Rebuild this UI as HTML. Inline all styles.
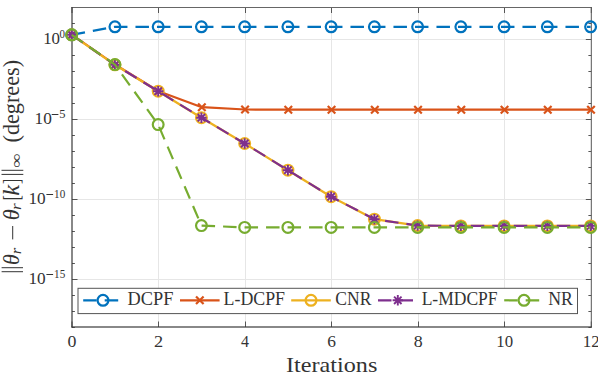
<!DOCTYPE html>
<html><head><meta charset="utf-8"><style>
html,body{margin:0;padding:0;background:#fff;overflow:hidden;}
svg{display:block;}
text{font-family:"Liberation Serif",serif;fill:#333333;}
</style></head><body>
<svg width="598" height="376" viewBox="0 0 598 376">
<line x1="158.50" y1="7.5" x2="158.50" y2="327.0" stroke="#e6e6e6" stroke-width="1"/>
<line x1="245.50" y1="7.5" x2="245.50" y2="327.0" stroke="#e6e6e6" stroke-width="1"/>
<line x1="331.50" y1="7.5" x2="331.50" y2="327.0" stroke="#e6e6e6" stroke-width="1"/>
<line x1="418.50" y1="7.5" x2="418.50" y2="327.0" stroke="#e6e6e6" stroke-width="1"/>
<line x1="504.50" y1="7.5" x2="504.50" y2="327.0" stroke="#e6e6e6" stroke-width="1"/>
<line x1="72.0" y1="39.50" x2="591.3" y2="39.50" stroke="#e6e6e6" stroke-width="1"/>
<line x1="72.0" y1="119.50" x2="591.3" y2="119.50" stroke="#e6e6e6" stroke-width="1"/>
<line x1="72.0" y1="199.50" x2="591.3" y2="199.50" stroke="#e6e6e6" stroke-width="1"/>
<line x1="72.0" y1="279.50" x2="591.3" y2="279.50" stroke="#e6e6e6" stroke-width="1"/>
<path d="M72.00,327.0V321.5M72.00,7.5V13.0M158.50,327.0V321.5M158.50,7.5V13.0M245.50,327.0V321.5M245.50,7.5V13.0M331.50,327.0V321.5M331.50,7.5V13.0M418.50,327.0V321.5M418.50,7.5V13.0M504.50,327.0V321.5M504.50,7.5V13.0M591.30,327.0V321.5M591.30,7.5V13.0M72.0,7.50H74.9M591.3,7.50H588.4M72.0,23.50H74.9M591.3,23.50H588.4M72.0,39.50H77.5M591.3,39.50H585.8M72.0,55.50H74.9M591.3,55.50H588.4M72.0,71.50H74.9M591.3,71.50H588.4M72.0,87.50H74.9M591.3,87.50H588.4M72.0,103.50H74.9M591.3,103.50H588.4M72.0,119.50H77.5M591.3,119.50H585.8M72.0,135.50H74.9M591.3,135.50H588.4M72.0,151.50H74.9M591.3,151.50H588.4M72.0,167.50H74.9M591.3,167.50H588.4M72.0,183.50H74.9M591.3,183.50H588.4M72.0,199.50H77.5M591.3,199.50H585.8M72.0,215.50H74.9M591.3,215.50H588.4M72.0,231.50H74.9M591.3,231.50H588.4M72.0,247.50H74.9M591.3,247.50H588.4M72.0,263.50H74.9M591.3,263.50H588.4M72.0,279.50H77.5M591.3,279.50H585.8M72.0,295.50H74.9M591.3,295.50H588.4M72.0,311.50H74.9M591.3,311.50H588.4M72.0,327.50H74.9M591.3,327.50H588.4" stroke="#555" stroke-width="1" fill="none"/>
<line x1="71.4" y1="7.5" x2="591.8" y2="7.5" stroke="#666" stroke-width="1"/>
<line x1="591.3" y1="7.0" x2="591.3" y2="327.6" stroke="#555" stroke-width="1"/>
<rect x="71.4" y="326.4" width="520.40" height="1.2" fill="#3a3a3a"/>
<rect x="71.4" y="7.0" width="1.2" height="320.60" fill="#3a3a3a"/>
<polyline points="71.70,34.80 114.94,26.80 158.18,26.80 201.43,26.80 244.67,26.80 287.91,26.80 331.15,26.80 374.39,26.80 417.63,26.80 460.87,26.80 504.12,26.80 547.36,26.80 590.60,26.80" fill="none" stroke="#0072BD" stroke-width="2.2" stroke-linejoin="round" stroke-dasharray="13.5 8"/>
<circle cx="71.70" cy="34.80" r="5.4" fill="none" stroke="#0072BD" stroke-width="2.2"/>
<circle cx="114.94" cy="26.80" r="5.4" fill="none" stroke="#0072BD" stroke-width="2.2"/>
<circle cx="158.18" cy="26.80" r="5.4" fill="none" stroke="#0072BD" stroke-width="2.2"/>
<circle cx="201.43" cy="26.80" r="5.4" fill="none" stroke="#0072BD" stroke-width="2.2"/>
<circle cx="244.67" cy="26.80" r="5.4" fill="none" stroke="#0072BD" stroke-width="2.2"/>
<circle cx="287.91" cy="26.80" r="5.4" fill="none" stroke="#0072BD" stroke-width="2.2"/>
<circle cx="331.15" cy="26.80" r="5.4" fill="none" stroke="#0072BD" stroke-width="2.2"/>
<circle cx="374.39" cy="26.80" r="5.4" fill="none" stroke="#0072BD" stroke-width="2.2"/>
<circle cx="417.63" cy="26.80" r="5.4" fill="none" stroke="#0072BD" stroke-width="2.2"/>
<circle cx="460.87" cy="26.80" r="5.4" fill="none" stroke="#0072BD" stroke-width="2.2"/>
<circle cx="504.12" cy="26.80" r="5.4" fill="none" stroke="#0072BD" stroke-width="2.2"/>
<circle cx="547.36" cy="26.80" r="5.4" fill="none" stroke="#0072BD" stroke-width="2.2"/>
<circle cx="590.60" cy="26.80" r="5.4" fill="none" stroke="#0072BD" stroke-width="2.2"/>
<polyline points="72.10,34.80 115.34,64.80 158.58,91.20 201.83,107.20 245.07,109.50 288.31,109.70 331.55,109.70 374.79,109.70 418.03,109.70 461.27,109.70 504.52,109.70 547.76,109.70 591.00,109.70" fill="none" stroke="#D95319" stroke-width="2.2" stroke-linejoin="round"/>
<path d="M69.10,31.80L75.10,37.80M69.10,37.80L75.10,31.80" stroke="#D95319" stroke-width="2.2" stroke-linecap="square" fill="none"/>
<path d="M112.34,61.80L118.34,67.80M112.34,67.80L118.34,61.80" stroke="#D95319" stroke-width="2.2" stroke-linecap="square" fill="none"/>
<path d="M155.58,88.20L161.58,94.20M155.58,94.20L161.58,88.20" stroke="#D95319" stroke-width="2.2" stroke-linecap="square" fill="none"/>
<path d="M198.83,104.20L204.83,110.20M198.83,110.20L204.83,104.20" stroke="#D95319" stroke-width="2.2" stroke-linecap="square" fill="none"/>
<path d="M242.07,106.50L248.07,112.50M242.07,112.50L248.07,106.50" stroke="#D95319" stroke-width="2.2" stroke-linecap="square" fill="none"/>
<path d="M285.31,106.70L291.31,112.70M285.31,112.70L291.31,106.70" stroke="#D95319" stroke-width="2.2" stroke-linecap="square" fill="none"/>
<path d="M328.55,106.70L334.55,112.70M328.55,112.70L334.55,106.70" stroke="#D95319" stroke-width="2.2" stroke-linecap="square" fill="none"/>
<path d="M371.79,106.70L377.79,112.70M371.79,112.70L377.79,106.70" stroke="#D95319" stroke-width="2.2" stroke-linecap="square" fill="none"/>
<path d="M415.03,106.70L421.03,112.70M415.03,112.70L421.03,106.70" stroke="#D95319" stroke-width="2.2" stroke-linecap="square" fill="none"/>
<path d="M458.27,106.70L464.27,112.70M458.27,112.70L464.27,106.70" stroke="#D95319" stroke-width="2.2" stroke-linecap="square" fill="none"/>
<path d="M501.52,106.70L507.52,112.70M501.52,112.70L507.52,106.70" stroke="#D95319" stroke-width="2.2" stroke-linecap="square" fill="none"/>
<path d="M544.76,106.70L550.76,112.70M544.76,112.70L550.76,106.70" stroke="#D95319" stroke-width="2.2" stroke-linecap="square" fill="none"/>
<path d="M588.00,106.70L594.00,112.70M588.00,112.70L594.00,106.70" stroke="#D95319" stroke-width="2.2" stroke-linecap="square" fill="none"/>
<polyline points="71.70,34.80 114.94,64.80 158.18,91.20 201.43,117.70 244.67,143.50 287.91,170.20 331.15,196.70 374.39,219.20 417.63,225.60 460.87,225.90 504.12,225.90 547.36,225.90 590.60,225.90" fill="none" stroke="#EDB120" stroke-width="2.2" stroke-linejoin="round"/>
<circle cx="71.70" cy="34.80" r="5.4" fill="none" stroke="#EDB120" stroke-width="2.2"/>
<circle cx="114.94" cy="64.80" r="5.4" fill="none" stroke="#EDB120" stroke-width="2.2"/>
<circle cx="158.18" cy="91.20" r="5.4" fill="none" stroke="#EDB120" stroke-width="2.2"/>
<circle cx="201.43" cy="117.70" r="5.4" fill="none" stroke="#EDB120" stroke-width="2.2"/>
<circle cx="244.67" cy="143.50" r="5.4" fill="none" stroke="#EDB120" stroke-width="2.2"/>
<circle cx="287.91" cy="170.20" r="5.4" fill="none" stroke="#EDB120" stroke-width="2.2"/>
<circle cx="331.15" cy="196.70" r="5.4" fill="none" stroke="#EDB120" stroke-width="2.2"/>
<circle cx="374.39" cy="219.20" r="5.4" fill="none" stroke="#EDB120" stroke-width="2.2"/>
<circle cx="417.63" cy="225.60" r="5.4" fill="none" stroke="#EDB120" stroke-width="2.2"/>
<circle cx="460.87" cy="225.90" r="5.4" fill="none" stroke="#EDB120" stroke-width="2.2"/>
<circle cx="504.12" cy="225.90" r="5.4" fill="none" stroke="#EDB120" stroke-width="2.2"/>
<circle cx="547.36" cy="225.90" r="5.4" fill="none" stroke="#EDB120" stroke-width="2.2"/>
<circle cx="590.60" cy="225.90" r="5.4" fill="none" stroke="#EDB120" stroke-width="2.2"/>
<polyline points="71.70,34.80 114.94,64.80 158.18,91.20 201.43,117.70 244.67,143.50 287.91,170.20 331.15,196.70 374.39,219.20 417.63,225.60 460.87,225.90 504.12,225.90 547.36,225.90 590.60,225.90" fill="none" stroke="#7E2F8E" stroke-width="2.2" stroke-linejoin="round" stroke-dasharray="13.5 8"/>
<path d="M66.50,34.80L76.90,34.80M71.70,29.60L71.70,40.00M67.96,31.06L75.44,38.54M67.96,38.54L75.44,31.06" stroke="#7E2F8E" stroke-width="1.9" fill="none"/>
<path d="M109.74,64.80L120.14,64.80M114.94,59.60L114.94,70.00M111.20,61.06L118.69,68.54M111.20,68.54L118.69,61.06" stroke="#7E2F8E" stroke-width="1.9" fill="none"/>
<path d="M152.98,91.20L163.38,91.20M158.18,86.00L158.18,96.40M154.44,87.46L161.93,94.94M154.44,94.94L161.93,87.46" stroke="#7E2F8E" stroke-width="1.9" fill="none"/>
<path d="M196.23,117.70L206.62,117.70M201.43,112.50L201.43,122.90M197.68,113.96L205.17,121.44M197.68,121.44L205.17,113.96" stroke="#7E2F8E" stroke-width="1.9" fill="none"/>
<path d="M239.47,143.50L249.87,143.50M244.67,138.30L244.67,148.70M240.92,139.76L248.41,147.24M240.92,147.24L248.41,139.76" stroke="#7E2F8E" stroke-width="1.9" fill="none"/>
<path d="M282.71,170.20L293.11,170.20M287.91,165.00L287.91,175.40M284.16,166.46L291.65,173.94M284.16,173.94L291.65,166.46" stroke="#7E2F8E" stroke-width="1.9" fill="none"/>
<path d="M325.95,196.70L336.35,196.70M331.15,191.50L331.15,201.90M327.41,192.96L334.89,200.44M327.41,200.44L334.89,192.96" stroke="#7E2F8E" stroke-width="1.9" fill="none"/>
<path d="M369.19,219.20L379.59,219.20M374.39,214.00L374.39,224.40M370.65,215.46L378.14,222.94M370.65,222.94L378.14,215.46" stroke="#7E2F8E" stroke-width="1.9" fill="none"/>
<path d="M412.43,225.60L422.83,225.60M417.63,220.40L417.63,230.80M413.89,221.86L421.38,229.34M413.89,229.34L421.38,221.86" stroke="#7E2F8E" stroke-width="1.9" fill="none"/>
<path d="M455.67,225.90L466.07,225.90M460.87,220.70L460.87,231.10M457.13,222.16L464.62,229.64M457.13,229.64L464.62,222.16" stroke="#7E2F8E" stroke-width="1.9" fill="none"/>
<path d="M498.92,225.90L509.32,225.90M504.12,220.70L504.12,231.10M500.37,222.16L507.86,229.64M500.37,229.64L507.86,222.16" stroke="#7E2F8E" stroke-width="1.9" fill="none"/>
<path d="M542.16,225.90L552.56,225.90M547.36,220.70L547.36,231.10M543.61,222.16L551.10,229.64M543.61,229.64L551.10,222.16" stroke="#7E2F8E" stroke-width="1.9" fill="none"/>
<path d="M585.40,225.90L595.80,225.90M590.60,220.70L590.60,231.10M586.86,222.16L594.34,229.64M586.86,229.64L594.34,222.16" stroke="#7E2F8E" stroke-width="1.9" fill="none"/>
<polyline points="71.70,34.80 114.94,64.60 158.18,124.60 201.43,225.60 244.67,227.40 287.91,227.40 331.15,227.40 374.39,227.40 417.63,227.40 460.87,227.40 504.12,227.40 547.36,227.40 590.60,227.40" fill="none" stroke="#77AC30" stroke-width="2.2" stroke-linejoin="round" stroke-dasharray="13.5 8"/>
<circle cx="71.70" cy="34.80" r="5.4" fill="none" stroke="#77AC30" stroke-width="2.2"/>
<circle cx="114.94" cy="64.60" r="5.4" fill="none" stroke="#77AC30" stroke-width="2.2"/>
<circle cx="158.18" cy="124.60" r="5.4" fill="none" stroke="#77AC30" stroke-width="2.2"/>
<circle cx="201.43" cy="225.60" r="5.4" fill="none" stroke="#77AC30" stroke-width="2.2"/>
<circle cx="244.67" cy="227.40" r="5.4" fill="none" stroke="#77AC30" stroke-width="2.2"/>
<circle cx="287.91" cy="227.40" r="5.4" fill="none" stroke="#77AC30" stroke-width="2.2"/>
<circle cx="331.15" cy="227.40" r="5.4" fill="none" stroke="#77AC30" stroke-width="2.2"/>
<circle cx="374.39" cy="227.40" r="5.4" fill="none" stroke="#77AC30" stroke-width="2.2"/>
<circle cx="417.63" cy="227.40" r="5.4" fill="none" stroke="#77AC30" stroke-width="2.2"/>
<circle cx="460.87" cy="227.40" r="5.4" fill="none" stroke="#77AC30" stroke-width="2.2"/>
<circle cx="504.12" cy="227.40" r="5.4" fill="none" stroke="#77AC30" stroke-width="2.2"/>
<circle cx="547.36" cy="227.40" r="5.4" fill="none" stroke="#77AC30" stroke-width="2.2"/>
<circle cx="590.60" cy="227.40" r="5.4" fill="none" stroke="#77AC30" stroke-width="2.2"/>
<rect x="78.0" y="288.3" width="499.5" height="25.3" fill="#fff" stroke="#555" stroke-width="1"/>
<line x1="83.2" y1="300.3" x2="122.80" y2="300.3" stroke="#0072BD" stroke-width="2.2" stroke-dasharray="13.5 8"/>
<circle cx="103.00" cy="300.30" r="5.4" fill="none" stroke="#0072BD" stroke-width="2.2"/>
<text x="127.55" y="304.90" font-size="17.80" textLength="45.82" lengthAdjust="spacingAndGlyphs">DCPF</text>
<line x1="180.0" y1="300.3" x2="219.60" y2="300.3" stroke="#D95319" stroke-width="2.2"/>
<path d="M196.80,297.30L202.80,303.30M196.80,303.30L202.80,297.30" stroke="#D95319" stroke-width="2.2" stroke-linecap="square" fill="none"/>
<text x="223.56" y="304.90" font-size="17.80" textLength="61.46" lengthAdjust="spacingAndGlyphs">L-DCPF</text>
<line x1="291.2" y1="300.3" x2="330.80" y2="300.3" stroke="#EDB120" stroke-width="2.2"/>
<circle cx="311.00" cy="300.30" r="5.4" fill="none" stroke="#EDB120" stroke-width="2.2"/>
<text x="335.30" y="304.90" font-size="17.80" textLength="36.04" lengthAdjust="spacingAndGlyphs">CNR</text>
<line x1="378.0" y1="300.3" x2="417.60" y2="300.3" stroke="#7E2F8E" stroke-width="2.2" stroke-dasharray="13.5 8"/>
<path d="M392.60,300.30L403.00,300.30M397.80,295.10L397.80,305.50M394.06,296.56L401.54,304.04M394.06,304.04L401.54,296.56" stroke="#7E2F8E" stroke-width="1.9" fill="none"/>
<text x="421.67" y="304.90" font-size="17.80" textLength="75.93" lengthAdjust="spacingAndGlyphs">L-MDCPF</text>
<line x1="504.2" y1="300.3" x2="543.80" y2="300.3" stroke="#77AC30" stroke-width="2.2" stroke-dasharray="13.5 8"/>
<circle cx="524.00" cy="300.30" r="5.4" fill="none" stroke="#77AC30" stroke-width="2.2"/>
<text x="548.17" y="304.90" font-size="17.80" textLength="24.62" lengthAdjust="spacingAndGlyphs">NR</text>
<text x="67.54" y="346.70" font-size="17.60" textLength="8.93" lengthAdjust="spacingAndGlyphs">0</text>
<text x="154.07" y="346.70" font-size="17.60" textLength="9.15" lengthAdjust="spacingAndGlyphs">2</text>
<text x="241.03" y="346.70" font-size="17.60" textLength="7.98" lengthAdjust="spacingAndGlyphs">4</text>
<text x="327.20" y="346.70" font-size="17.60" textLength="8.72" lengthAdjust="spacingAndGlyphs">6</text>
<text x="413.74" y="346.70" font-size="17.60" textLength="8.93" lengthAdjust="spacingAndGlyphs">8</text>
<text x="496.34" y="346.70" font-size="17.60" textLength="16.78" lengthAdjust="spacingAndGlyphs">10</text>
<text x="582.87" y="346.70" font-size="17.60" textLength="16.98" lengthAdjust="spacingAndGlyphs">12</text>
<text x="43.18" y="43.80" font-size="17.70" textLength="16.90" lengthAdjust="spacingAndGlyphs">10</text>
<text x="59.46" y="38.20" font-size="11.60" textLength="5.48" lengthAdjust="spacingAndGlyphs">0</text>
<text x="34.55" y="123.80" font-size="17.70" textLength="17.24" lengthAdjust="spacingAndGlyphs">10</text>
<rect x="51.70" y="114" width="6.70" height="1" fill="#333333"/>
<text x="59.25" y="118.20" font-size="11.60" textLength="6.25" lengthAdjust="spacingAndGlyphs">5</text>
<text x="28.45" y="203.80" font-size="17.70" textLength="17.24" lengthAdjust="spacingAndGlyphs">10</text>
<rect x="46.40" y="194" width="6.70" height="1" fill="#333333"/>
<text x="54.10" y="198.20" font-size="11.60" textLength="11.15" lengthAdjust="spacingAndGlyphs">10</text>
<text x="28.45" y="283.80" font-size="17.70" textLength="17.24" lengthAdjust="spacingAndGlyphs">10</text>
<rect x="46.40" y="274" width="6.70" height="1" fill="#333333"/>
<text x="54.10" y="278.20" font-size="11.60" textLength="11.15" lengthAdjust="spacingAndGlyphs">15</text>
<text x="286.03" y="371.90" font-size="21.80" textLength="91.35" lengthAdjust="spacingAndGlyphs">Iterations</text>
<rect x="1.6" y="267.20" width="21.4" height="1.0" fill="#333333"/>
<rect x="1.6" y="271.20" width="21.4" height="1.0" fill="#333333"/>
<rect x="1.5" y="169.80" width="21.8" height="1.0" fill="#333333"/>
<rect x="1.5" y="173.90" width="21.8" height="1.0" fill="#333333"/>
<rect x="12.2" y="226.0" width="1.0" height="13.4" fill="#333333"/>
<g transform="translate(18.5,280.0) rotate(-90)"><text x="14.90" y="0.00" font-size="22.50" textLength="10.76" lengthAdjust="spacingAndGlyphs" font-style="italic">θ</text><text x="25.74" y="2.60" font-size="14.50" textLength="6.45" lengthAdjust="spacingAndGlyphs" font-style="italic">r</text><text x="59.68" y="0.00" font-size="22.50" textLength="10.99" lengthAdjust="spacingAndGlyphs" font-style="italic">θ</text><text x="69.91" y="2.60" font-size="14.50" textLength="6.67" lengthAdjust="spacingAndGlyphs" font-style="italic">r</text><text x="79.77" y="0.00" font-size="22.50" textLength="4.92" lengthAdjust="spacingAndGlyphs">[</text><text x="84.26" y="0.00" font-size="22.50" textLength="10.94" lengthAdjust="spacingAndGlyphs" font-style="italic">k</text><text x="95.96" y="0.00" font-size="22.50" textLength="5.30" lengthAdjust="spacingAndGlyphs">]</text><text x="112.39" y="2.20" font-size="14.50" textLength="14.48" lengthAdjust="spacingAndGlyphs">∞</text><text x="137.51" y="0.00" font-size="23.20" textLength="82.57" lengthAdjust="spacingAndGlyphs">(degrees)</text></g>
</svg>
</body></html>
